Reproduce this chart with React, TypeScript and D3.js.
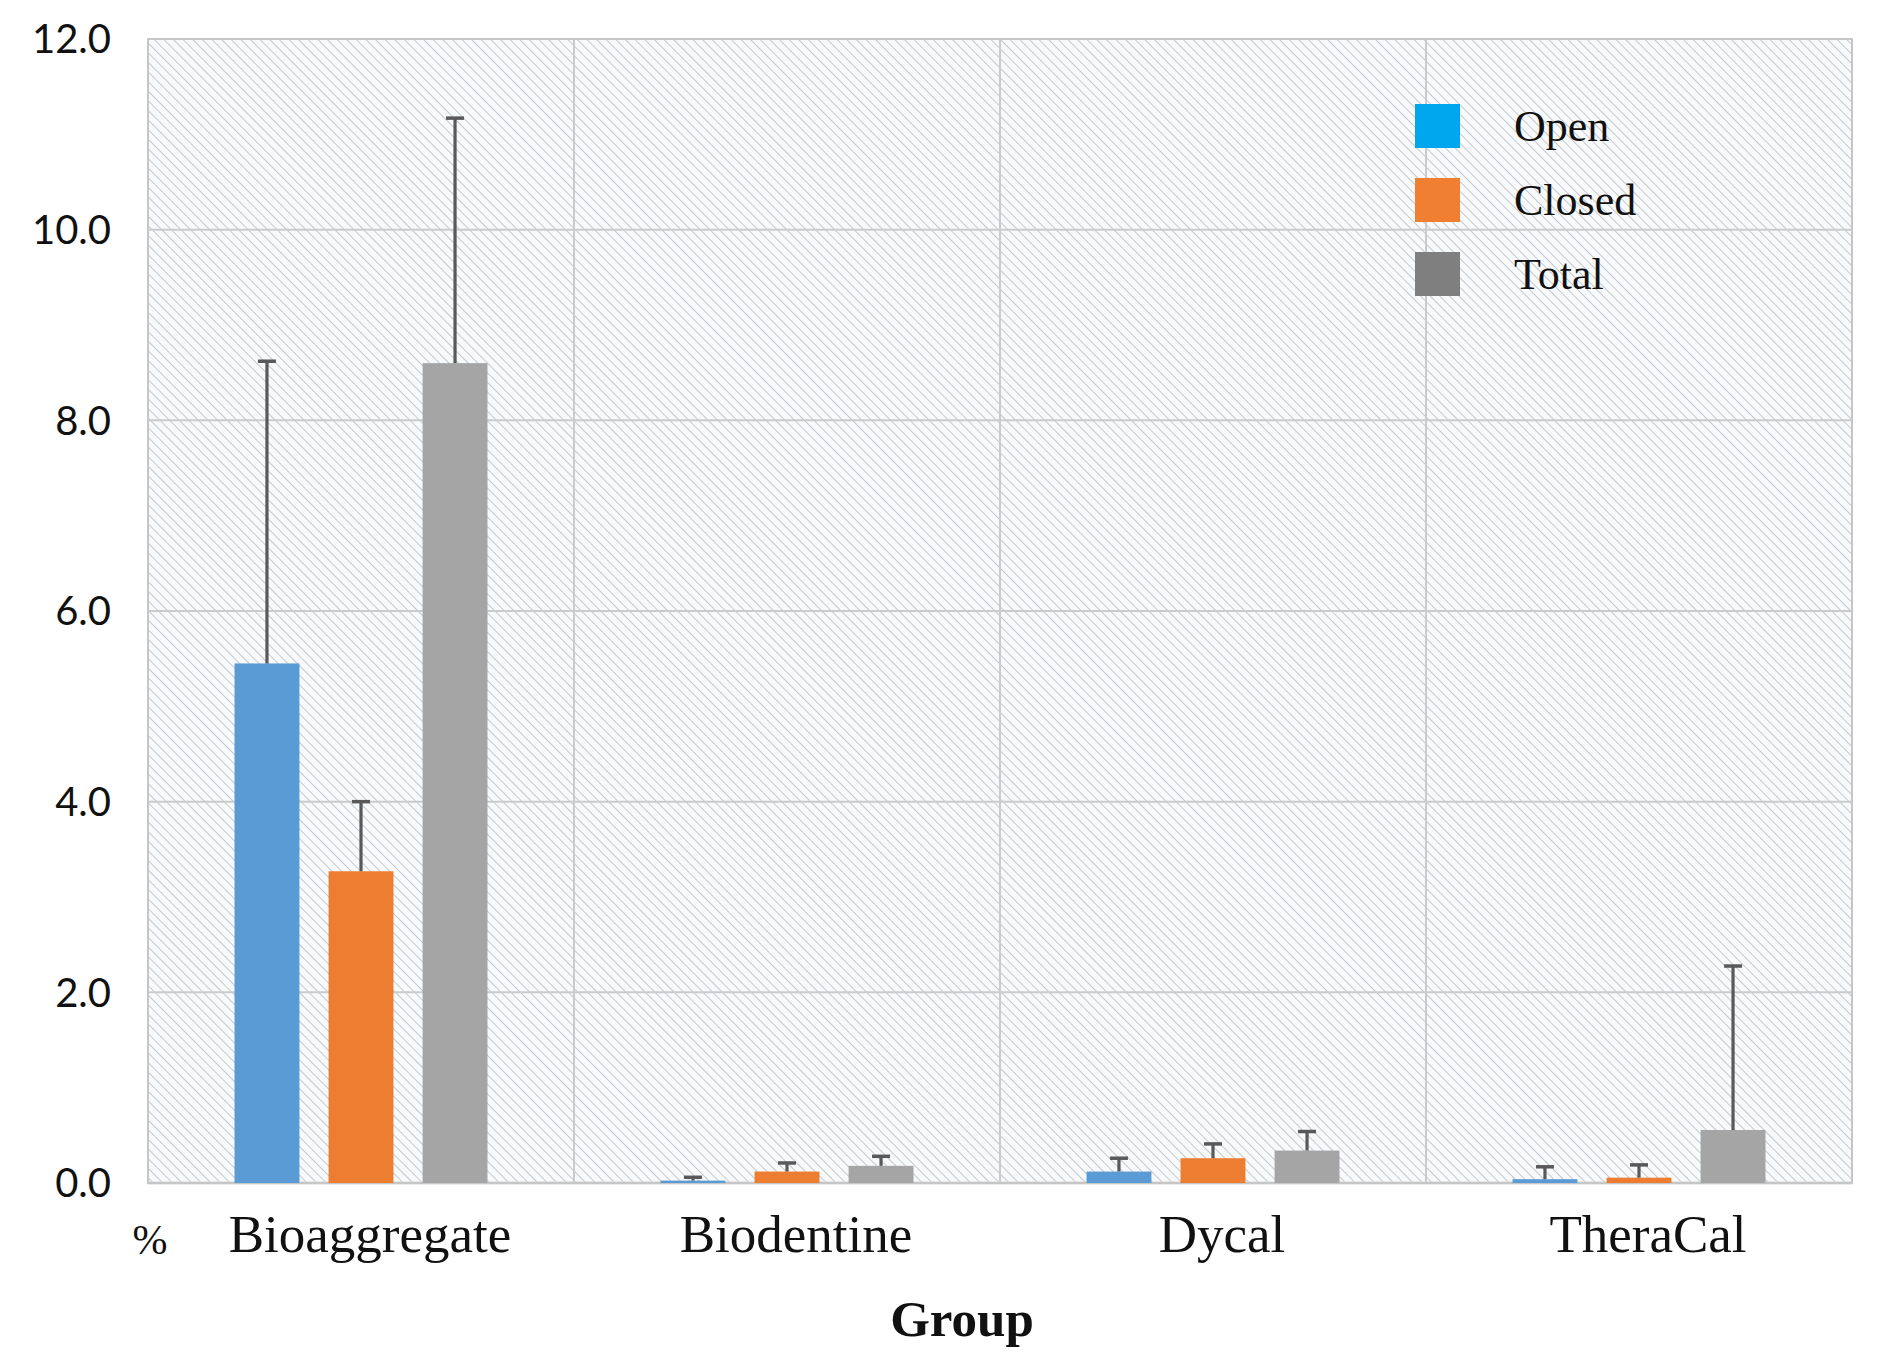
import React from "react";
import * as d3 from "d3";

const categories = ["Bioaggregate", "Biodentine", "Dycal", "TheraCal"];
const seriesNames = ["Open", "Closed", "Total"];
const openValues = [5.45, 0.025, 0.12, 0.04];
const openErrors = [3.17, 0.035, 0.14, 0.13];
const closedValues = [3.27, 0.12, 0.26, 0.056];
const closedErrors = [0.73, 0.09, 0.15, 0.134];
const totalValues = [8.6, 0.18, 0.34, 0.556];
const totalErrors = [2.57, 0.1, 0.2, 1.72];
const yTicks = [0, 2, 4, 6, 8, 10, 12];

const barColors = ["#5B9BD5", "#ED7D31", "#A5A5A5"];
const legendColors = ["#00A6EE", "#F07F32", "#7F7F7F"];

const W = 1892;
const H = 1368;
const M = { left: 148, right: 40, top: 39, bottom: 185 };

export default function App() {
  const x = d3
    .scaleBand<string>()
    .domain(categories)
    .range([M.left, W - M.right])
    .paddingInner(0)
    .paddingOuter(0);
  const xs = d3
    .scaleBand<string>()
    .domain(seriesNames)
    .range([0, x.bandwidth()])
    .paddingInner(0.31)
    .paddingOuter(0.92);
  const y = d3.scaleLinear().domain([0, 12]).range([H - M.bottom, M.top]);
  const fmt = d3.format(".1f");

  const values = [openValues, closedValues, totalValues];
  const errors = [openErrors, closedErrors, totalErrors];

  const plotL = M.left;
  const plotR = W - M.right;
  const plotT = M.top;
  const plotB = H - M.bottom;
  const capHalf = 9;
  const hs = 6.8;

  return (
    <svg
      width={W}
      height={H}
      style={{ position: "absolute", left: 0, top: 0, display: "block", background: "#ffffff" }}
    >
      <defs>
        <pattern
          id="hatch"
          patternUnits="userSpaceOnUse"
          width={hs}
          height={hs}
          patternTransform="rotate(45)"
        >
          <rect width={hs} height={hs} fill="#f7f9fb" />
          <line x1={0} y1={0.5} x2={hs} y2={0.5} stroke="#c4c9cd" strokeWidth={1.0} />
        </pattern>
      </defs>

      {/* plot background */}
      <rect x={plotL} y={plotT} width={plotR - plotL} height={plotB - plotT} fill="url(#hatch)" />

      {/* horizontal gridlines */}
      {yTicks.map((t) => (
        <line
          key={"h" + t}
          x1={plotL}
          x2={plotR}
          y1={y(t)}
          y2={y(t)}
          stroke={t === 0 ? "#d6d6d6" : "#cbcbcb"}
          strokeWidth={t === 0 ? 3 : 2}
        />
      ))}
      {/* vertical category separators */}
      {categories.slice(1).map((c) => (
        <line
          key={"v" + c}
          x1={x(c)!}
          x2={x(c)!}
          y1={plotT}
          y2={plotB}
          stroke="#cbcbcb"
          strokeWidth={2}
        />
      ))}
      {/* border */}
      <rect
        x={plotL}
        y={plotT}
        width={plotR - plotL}
        height={plotB - plotT}
        fill="none"
        stroke="#c6c6c6"
        strokeWidth={2}
      />

      {/* bars */}
      {categories.map((c, ci) =>
        seriesNames.map((s, si) => {
          const v = values[si][ci];
          const bx = x(c)! + xs(s)!;
          return (
            <rect
              key={c + s}
              x={bx}
              y={y(v)}
              width={xs.bandwidth()}
              height={y(0) - y(v)}
              fill={barColors[si]}
            />
          );
        })
      )}

      {/* error bars */}
      {categories.map((c, ci) =>
        seriesNames.map((s, si) => {
          const v = values[si][ci];
          const e = errors[si][ci];
          const cx = x(c)! + xs(s)! + xs.bandwidth() / 2;
          return (
            <g key={"e" + c + s} stroke="#595959">
              <line x1={cx} x2={cx} y1={y(v)} y2={y(v + e)} strokeWidth={3.2} />
              <line
                x1={cx - capHalf}
                x2={cx + capHalf}
                y1={y(v + e)}
                y2={y(v + e)}
                strokeWidth={3.5}
              />
            </g>
          );
        })
      )}

      {/* y tick labels */}
      {yTicks.map((t) => (
        <text
          key={"yl" + t}
          x={111}
          y={y(t)}
          dy="0.36em"
          textAnchor="end"
          fontFamily="Lato, 'Open Sans', sans-serif"
          fontSize={40}
          fill="#111"
        >
          {fmt(t)}
        </text>
      ))}

      {/* category labels */}
      {categories.map((c) => (
        <text
          key={"xl" + c}
          x={x(c)! + x.bandwidth() / 2 + 9}
          y={1252}
          textAnchor="middle"
          fontFamily="'Liberation Serif', 'Times New Roman', serif"
          fontSize={53}
          fill="#111"
        >
          {c}
        </text>
      ))}

      {/* % unit */}
      <text
        x={plotL + 2}
        y={1254}
        textAnchor="middle"
        fontFamily="'Liberation Serif', 'Times New Roman', serif"
        fontSize={42}
        fill="#111"
      >
        %
      </text>

      {/* axis title */}
      <text
        x={962}
        y={1336}
        textAnchor="middle"
        fontFamily="'Liberation Serif', 'Times New Roman', serif"
        fontSize={51}
        fontWeight="bold"
        fill="#111"
      >
        Group
      </text>

      {/* legend */}
      {seriesNames.map((s, i) => {
        const cy = 126 + i * 74;
        return (
          <g key={"lg" + s}>
            <rect x={1415} y={cy - 22} width={45} height={44} fill={legendColors[i]} />
            <text
              x={1514}
              y={cy}
              dy="0.33em"
              fontFamily="'Liberation Serif', 'Times New Roman', serif"
              fontSize={44}
              fill="#111"
            >
              {s}
            </text>
          </g>
        );
      })}
    </svg>
  );
}
